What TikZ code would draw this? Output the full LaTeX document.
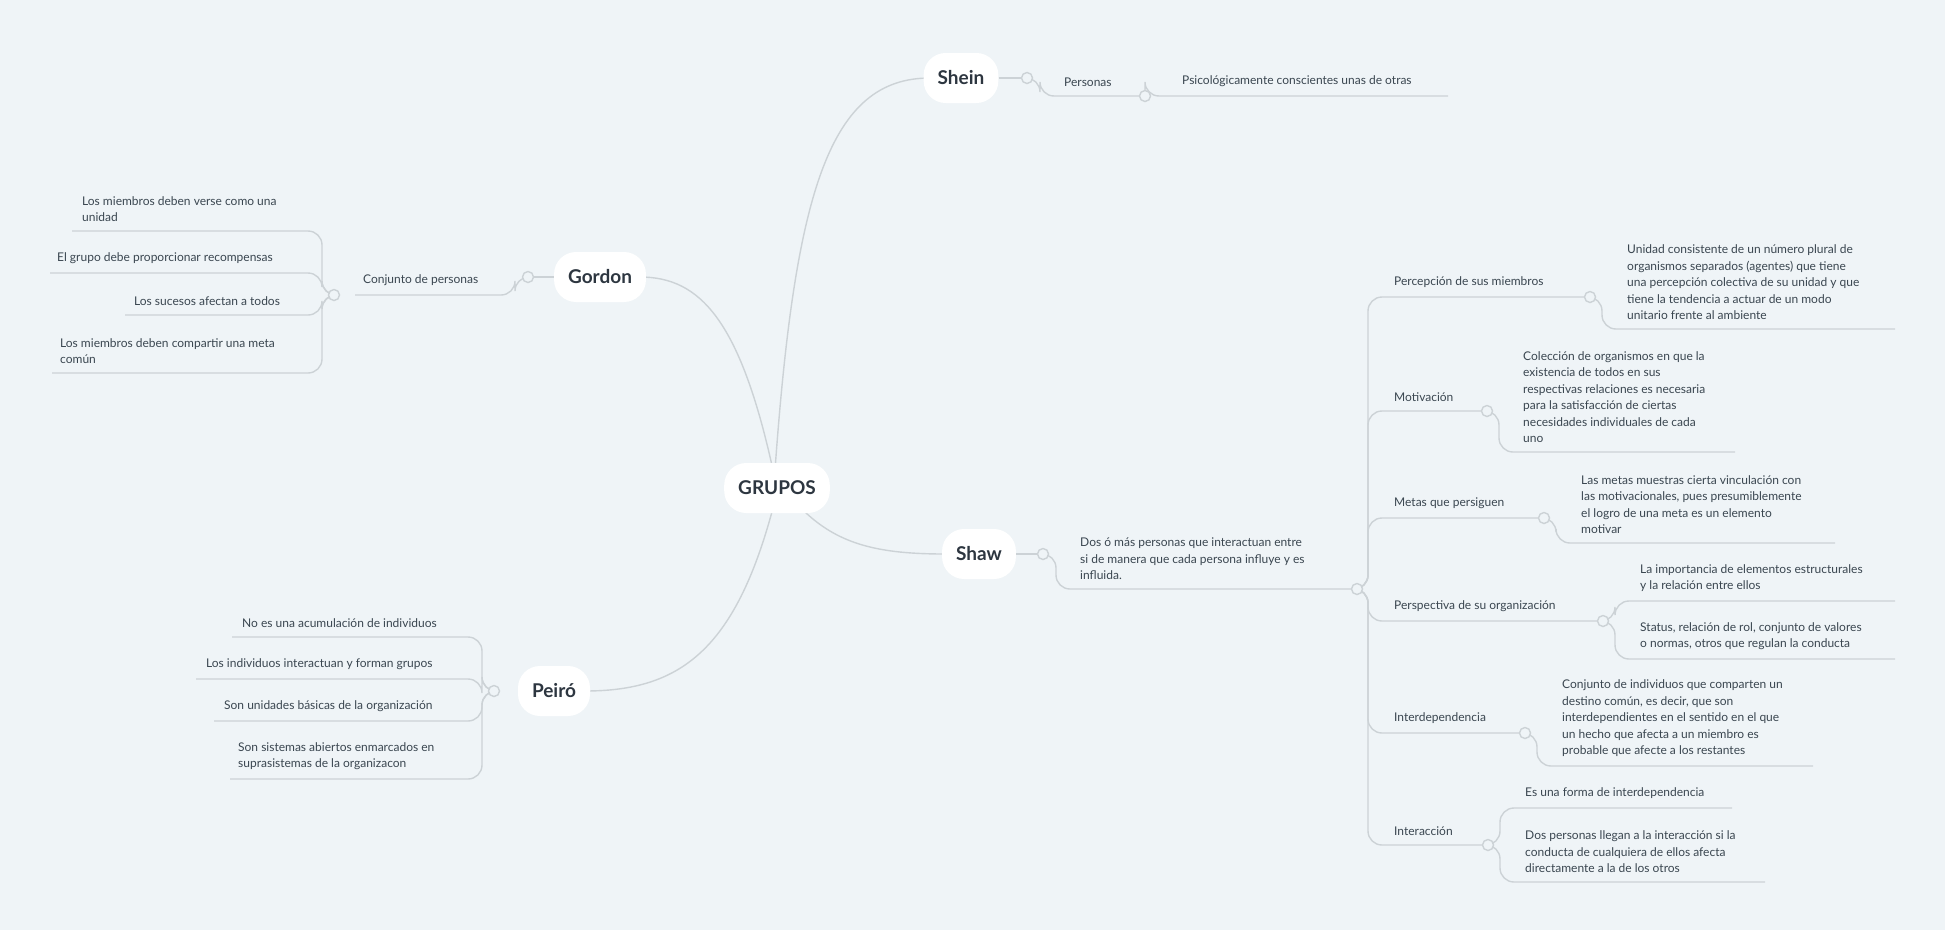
\documentclass[tikz,border=0pt]{standalone}
\usepackage{fontspec}
\setmainfont{Lato}
\definecolor{bg}{HTML}{EFF4F7}
\definecolor{ln}{HTML}{CCD2D6}
\definecolor{tx}{HTML}{3A4650}
\definecolor{hd}{HTML}{2D3640}
\tikzset{
 topic/.style={fill=white,rounded corners=22pt,minimum height=50pt,inner xsep=14pt,font=\fontsize{19}{22}\selectfont\bfseries,text=hd},
 lbl/.style={anchor=south west,inner sep=0pt,align=left,font=\fontsize{12}{16.5}\selectfont,text=tx},
 conn/.style={draw=ln,line width=1.4pt},
 jn/.style={circle,draw=ln,line width=1.4pt,fill=bg,inner sep=0pt,minimum size=11pt}
}
% \br{cx}{cy}{vx}{uy}{x2}{tx}{text}
\newcommand{\br}[7]{%
 \draw[conn,rounded corners=14pt] (#1,#2) -- (#3,#2) -- (#3,#4) -- (#5,#4);
 \node[lbl] at (#6,#4-9) {#7};}
\begin{document}
\begin{tikzpicture}[x=1pt,y=-1pt]
\fill[bg] (0,0) rectangle (1945,930);
\useasboundingbox (0,0) rectangle (1945,930);
% main connectors
\coordinate (g0) at (777,470);
\draw[conn] (775,470) .. controls (795,190) and (830,78) .. (930,78);
\draw[conn] (773,470) .. controls (740,320) and (700,277) .. (640,277);
\draw[conn] (805,512) .. controls (840,545) and (880,554) .. (945,554);
\draw[conn] (773,508) .. controls (735,650) and (680,691) .. (585,691);
\node[topic] (grupos) at (777,488) {GRUPOS};
\node[topic] (shein) at (961,78) {Shein};
\node[topic] (gordon) at (600,277) {Gordon};
\node[topic] (shaw) at (979,554) {Shaw};
\node[topic] (peiro) at (554,691) {Peiró};
% Shein
\draw[conn] (shein.east) -- (1027,78);
\br{1027}{78}{1040}{96}{1145}{1064}{Personas}
\br{1145}{96}{1145}{96}{1448}{1182}{Psicológicamente conscientes unas de otras}
\node[jn] (j1) at (1027,78) {};
\node[jn] (j2) at (1145,96) {};
% Gordon
\draw[conn] (gordon.west) -- (528,277);
\br{528}{277}{515}{295}{355}{363}{Conjunto de personas}
\br{334}{295}{322}{231}{72}{82}{Los miembros deben verse como una\\unidad}
\br{334}{295}{322}{273}{50}{57}{El grupo debe proporcionar recompensas}
\br{334}{295}{322}{315}{125}{134}{Los sucesos afectan a todos}
\br{334}{295}{322}{373}{52}{60}{Los miembros deben compartir una meta\\común}
\node[jn] (j3) at (528,277) {};
\node[jn] (j4) at (334,295) {};
% Peiro
\br{494}{691}{482}{637}{232}{242}{No es una acumulación de individuos}
\br{494}{691}{482}{679}{196}{206}{Los individuos interactuan y forman grupos}
\br{494}{691}{482}{721}{214}{224}{Son unidades básicas de la organización}
\br{494}{691}{482}{779}{230}{238}{Son sistemas abiertos enmarcados en\\suprasistemas de la organizacon}
\node[jn] (j5) at (494,691) {};
% Shaw
\draw[conn] (shaw.east) -- (1043,554);
\br{1043}{554}{1056}{589}{1357}{1080}{Dos ó más personas que interactuan entre\\si de manera que cada persona influye y es\\influida.}
\br{1357}{589}{1368}{297}{1590}{1394}{Percepción de sus miembros}
\br{1357}{589}{1368}{411}{1487}{1394}{Motivación}
\br{1357}{589}{1368}{518}{1544}{1394}{Metas que persiguen}
\br{1357}{589}{1368}{621}{1603}{1394}{Perspectiva de su organización}
\br{1357}{589}{1368}{733}{1525}{1394}{Interdependencia}
\br{1357}{589}{1368}{845}{1488}{1394}{Interacción}
\br{1590}{297}{1602}{329}{1895}{1627}{Unidad consistente de un número plural de\\organismos separados (agentes) que tiene\\una percepción colectiva de su unidad y que\\tiene la tendencia a actuar de un modo\\unitario frente al ambiente}
\br{1487}{411}{1499}{452}{1735}{1523}{Colección de organismos en que la\\existencia de todos en sus\\respectivas relaciones es necesaria\\para la satisfacción de ciertas\\necesidades individuales de cada\\uno}
\br{1544}{518}{1556}{543}{1835}{1581}{Las metas muestras cierta vinculación con\\las motivacionales, pues presumiblemente\\el logro de una meta es un elemento\\motivar}
\br{1603}{621}{1615}{601}{1895}{1640}{La importancia de elementos estructurales\\y la relación entre ellos}
\br{1603}{621}{1615}{659}{1895}{1640}{Status, relación de rol, conjunto de valores\\o normas, otros que regulan la conducta}
\br{1525}{733}{1537}{766}{1813}{1562}{Conjunto de individuos que comparten un\\destino común, es decir, que son\\interdependientes en el sentido en el que\\un hecho que afecta a un miembro es\\probable que afecte a los restantes}
\br{1488}{845}{1500}{808}{1732}{1525}{Es una forma de interdependencia}
\br{1488}{845}{1500}{882}{1765}{1525}{Dos personas llegan a la interacción si la\\conducta de cualquiera de ellos afecta\\directamente a la de los otros}
\node[jn] (j6) at (1043,554) {};
\node[jn] (j7) at (1357,589) {};
\node[jn] at (1590,297) {};
\node[jn] at (1487,411) {};
\node[jn] at (1544,518) {};
\node[jn] at (1603,621) {};
\node[jn] at (1525,733) {};
\node[jn] at (1488,845) {};
\end{tikzpicture}
\end{document}
